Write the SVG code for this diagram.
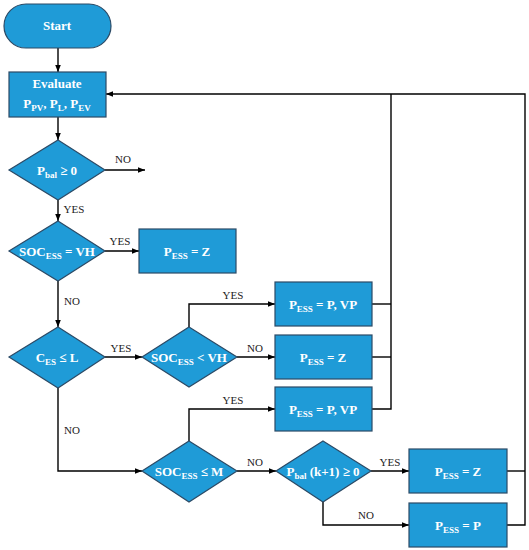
<svg xmlns="http://www.w3.org/2000/svg" width="529" height="550" viewBox="0 0 529 550">
<defs>
<marker id="ah" viewBox="0 0 10 10" refX="10" refY="5" markerWidth="7" markerHeight="7" markerUnits="userSpaceOnUse" orient="auto">
<path d="M0,1 L10,5 L0,9 z" fill="#000"/>
</marker>
</defs>
<style>
.n{fill:#1f9bd7;stroke:#2b4a66;stroke-width:1.2}
.t{font-family:"Liberation Serif","DejaVu Serif",serif;font-weight:bold;font-size:13px;fill:#fff;text-anchor:middle}
.s{font-size:9px}
.c{fill:none;stroke:#000;stroke-width:1.4}
.a{marker-end:url(#ah)}
.l{font-family:"Liberation Serif","DejaVu Serif",serif;font-size:11px;fill:#222;text-anchor:middle}
</style>
<rect width="529" height="550" fill="#fff"/>
<g id="connectors">
<line class="c a" x1="58" y1="48" x2="58" y2="72"/>
<line class="c a" x1="58" y1="117" x2="58" y2="140"/>
<line class="c a" x1="105" y1="170" x2="145" y2="170"/>
<line class="c a" x1="58" y1="200" x2="58" y2="221"/>
<line class="c a" x1="105" y1="251" x2="139" y2="251"/>
<line class="c a" x1="58" y1="281" x2="58" y2="327"/>
<line class="c a" x1="105" y1="357" x2="142" y2="357"/>
<polyline class="c a" points="189,327 189,304 275,304"/>
<line class="c a" x1="237" y1="357" x2="275" y2="357"/>
<polyline class="c a" points="58,388 58,471 142,471"/>
<polyline class="c a" points="189,441 189,409 275,409"/>
<line class="c a" x1="237" y1="471" x2="276" y2="471"/>
<line class="c a" x1="371" y1="471" x2="409" y2="471"/>
<polyline class="c a" points="323,502 323,525 409,525"/>
<polyline class="c" points="372,304 391,304"/>
<polyline class="c" points="372,357 391,357"/>
<polyline class="c" points="372,409 391,409 391,94"/>
<polyline class="c" points="507,471 525,471"/>
<polyline class="c" points="507,525 525,525 525,94 391,94"/>
<line class="c a" x1="391" y1="94" x2="106" y2="94"/>
<text class="l" x="123" y="163">NO</text>
<text class="l" x="74" y="213">YES</text>
<text class="l" x="120" y="245">YES</text>
<text class="l" x="72" y="305">NO</text>
<text class="l" x="121" y="352">YES</text>
<text class="l" x="233" y="299">YES</text>
<text class="l" x="255" y="352">NO</text>
<text class="l" x="233" y="404">YES</text>
<text class="l" x="72" y="434">NO</text>
<text class="l" x="255" y="466">NO</text>
<text class="l" x="390" y="466">YES</text>
<text class="l" x="366" y="519">NO</text>
</g>
<g id="start">
<rect class="n" x="4" y="4" width="107" height="44" rx="22" ry="22"/>
<text class="t" x="57" y="30">Start</text>
</g>
<g id="evaluate">
<rect class="n" x="9" y="72" width="97" height="45"/>
<text class="t" x="57" y="88">Evaluate</text>
<text class="t" x="57" y="108">P<tspan class="s" dy="3">PV</tspan><tspan dy="-3">, P</tspan><tspan class="s" dy="3">L</tspan><tspan dy="-3">, P</tspan><tspan class="s" dy="3">EV</tspan></text>
</g>
<g id="d-pbal">
<polygon class="n" points="58,140 105,170 58,200 9,170"/>
<text class="t" x="57" y="175">P<tspan class="s" dy="3">bal</tspan><tspan dy="-3"> ≥ 0</tspan></text>
</g>
<g id="d-socvh">
<polygon class="n" points="58,221 105,251 58,281 9,251"/>
<text class="t" x="57" y="256">SOC<tspan class="s" dy="3">ESS</tspan><tspan dy="-3"> = VH</tspan></text>
</g>
<g id="b-z1">
<rect class="n" x="139" y="229" width="97" height="44"/>
<text class="t" x="187" y="256">P<tspan class="s" dy="3">ESS</tspan><tspan dy="-3"> = Z</tspan></text>
</g>
<g id="d-ces">
<polygon class="n" points="58,327 105,357 58,388 9,357"/>
<text class="t" x="57" y="362">C<tspan class="s" dy="3">ES</tspan><tspan dy="-3"> ≤ L</tspan></text>
</g>
<g id="d-soclt">
<polygon class="n" points="189,327 237,357 189,387 142,357"/>
<text class="t" x="189" y="362">SOC<tspan class="s" dy="3">ESS</tspan><tspan dy="-3"> &lt; VH</tspan></text>
</g>
<g id="b-pvp1">
<rect class="n" x="275" y="282" width="97" height="44"/>
<text class="t" x="323" y="309">P<tspan class="s" dy="3">ESS</tspan><tspan dy="-3"> = P, VP</tspan></text>
</g>
<g id="b-z2">
<rect class="n" x="275" y="335" width="97" height="44"/>
<text class="t" x="323" y="362">P<tspan class="s" dy="3">ESS</tspan><tspan dy="-3"> = Z</tspan></text>
</g>
<g id="b-pvp2">
<rect class="n" x="275" y="387" width="97" height="44"/>
<text class="t" x="323" y="414">P<tspan class="s" dy="3">ESS</tspan><tspan dy="-3"> = P, VP</tspan></text>
</g>
<g id="d-socm">
<polygon class="n" points="189,441 237,471 189,502 142,471"/>
<text class="t" x="189" y="476">SOC<tspan class="s" dy="3">ESS</tspan><tspan dy="-3"> ≤ M</tspan></text>
</g>
<g id="d-pbalk">
<polygon class="n" points="323,441 371,471 323,502 276,471"/>
<text class="t" x="323" y="476">P<tspan class="s" dy="3">bal</tspan><tspan dy="-3"> (k+1) ≥ 0</tspan></text>
</g>
<g id="b-z3">
<rect class="n" x="409" y="449" width="98" height="44"/>
<text class="t" x="458" y="476">P<tspan class="s" dy="3">ESS</tspan><tspan dy="-3"> = Z</tspan></text>
</g>
<g id="b-p">
<rect class="n" x="409" y="503" width="98" height="44"/>
<text class="t" x="458" y="530">P<tspan class="s" dy="3">ESS</tspan><tspan dy="-3"> = P</tspan></text>
</g>
</svg>
